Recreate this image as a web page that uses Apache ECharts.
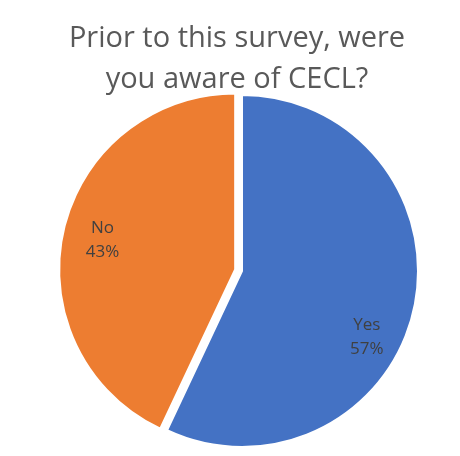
<!DOCTYPE html>
<html><head><meta charset="utf-8">
<script src="https://cdn.jsdelivr.net/npm/echarts@6/dist/echarts.min.js"></script>
<style>html,body{margin:0;padding:0;background:#fff}#c{width:460px;height:456px}</style>
</head><body><div id="c"></div>
<script>
const categories = ['Yes', 'No'];
const values = [57, 43];
const colors = ['#4472C4', '#ED7D31'];
const titleText = 'Prior to this survey, were\nyou aware of CECL?';

const labelShift = { Yes: [-8, 36], No: [20, -9] };
const data = categories.map((n, i) => ({ name: n, value: values[i], selected: n === 'No', itemStyle: { color: colors[i] } }));
const labelData = categories.map((n, i) => ({ name: n, value: values[i], selected: n === 'No', label: { offset: labelShift[n] } }));

const chart = echarts.init(document.getElementById('c'));
chart.setOption({
  animation: false,
  title: { text: titleText, left: 232, textAlign: 'center', top: 13, textStyle: { fontFamily: 'Open Sans', fontSize: 29, fontWeight: 'normal', color: '#595959', lineHeight: 41 } },
  series: [
    { type: 'pie', center: [242, 271], radius: [0, 176], startAngle: 90, clockwise: true,
      selectedMode: 'single', selectedOffset: 7, silent: true,
      itemStyle: { borderColor: '#fff', borderWidth: 2 }, label: { show: false }, labelLine: { show: false }, data: data },
    { type: 'pie', center: [242, 271], radius: [90, 176], startAngle: 90, clockwise: true,
      selectedMode: 'single', selectedOffset: 7, silent: true,
      itemStyle: { color: 'rgba(0,0,0,0)' },
      label: { show: true, position: 'inside', formatter: p => p.name + '\n' + p.value + '%', fontFamily: 'Open Sans', fontSize: 17, color: '#404040', lineHeight: 24 },
      labelLine: { show: false }, data: labelData }
  ]
});
</script></body></html>
